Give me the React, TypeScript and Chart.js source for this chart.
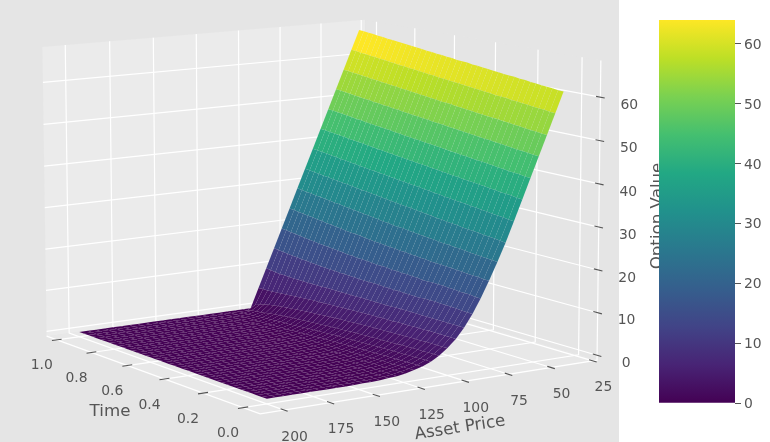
import { useEffect, useRef } from 'react';
import { Chart, registerables } from 'chart.js';
Chart.register(...registerables);

const assetPrices = [33.3,38.1,42.9,47.6,52.4,57.1,61.9,66.7,71.4,76.2,81,85.7,90.5,95.2,100,104.8,109.5,114.3,119,123.8,128.6,133.3,138.1,142.9,147.6,152.4,157.1,161.9,166.7,171.4,176.2,181,185.7,190.5,195.2,200];
const times = [0,0.025,0.05,0.075,0.1,0.125,0.15,0.175,0.2,0.225,0.25,0.275,0.3,0.325,0.35,0.375,0.4,0.425,0.45,0.475,0.5,0.525,0.55,0.575,0.6,0.625,0.65,0.675,0.7,0.725,0.75,0.775,0.8,0.825,0.85,0.875,0.9,0.925,0.95,0.975,1];
// One row per asset price, one entry per time; entries left off the end of a row are 0.
const optionValues:number[][] = [
[60.9,61,61.2,61.3,61.4,61.6,61.7,61.9,62,62.2,62.3,62.4,62.6,62.7,62.9,63,63.2,63.3,63.5,63.6,63.7,63.9,64,64.2,64.3,64.5,64.6,64.8,64.9,65.1,65.2,65.4,65.5,65.7,65.8,66,66.1,66.3,66.4,66.6,66.7],
[56.1,56.2,56.4,56.5,56.6,56.8,56.9,57.1,57.2,57.4,57.5,57.6,57.8,57.9,58.1,58.2,58.4,58.5,58.7,58.8,58.9,59.1,59.2,59.4,59.5,59.7,59.8,60,60.1,60.3,60.4,60.6,60.7,60.9,61,61.2,61.3,61.5,61.6,61.8,61.9],
[51.3,51.4,51.6,51.7,51.8,52,52.1,52.3,52.4,52.6,52.7,52.8,53,53.1,53.3,53.4,53.6,53.7,53.9,54,54.1,54.3,54.4,54.6,54.7,54.9,55,55.2,55.3,55.5,55.6,55.8,55.9,56.1,56.2,56.4,56.5,56.7,56.8,57,57.1],
[46.6,46.7,46.9,47,47.1,47.3,47.4,47.6,47.7,47.9,48,48.1,48.3,48.4,48.6,48.7,48.9,49,49.2,49.3,49.4,49.6,49.7,49.9,50,50.2,50.3,50.5,50.6,50.8,50.9,51.1,51.2,51.4,51.5,51.7,51.8,52,52.1,52.3,52.4],
[41.8,41.9,42.1,42.2,42.3,42.5,42.6,42.8,42.9,43.1,43.2,43.3,43.5,43.6,43.8,43.9,44.1,44.2,44.4,44.5,44.6,44.8,44.9,45.1,45.2,45.4,45.5,45.7,45.8,46,46.1,46.3,46.4,46.6,46.7,46.9,47,47.2,47.3,47.5,47.6],
[37.1,37.2,37.4,37.5,37.6,37.8,37.9,38.1,38.2,38.4,38.5,38.6,38.8,38.9,39.1,39.2,39.4,39.5,39.7,39.8,39.9,40.1,40.2,40.4,40.5,40.7,40.8,41,41.1,41.3,41.4,41.6,41.7,41.9,42,42.2,42.3,42.5,42.6,42.8,42.9],
[32.3,32.4,32.6,32.7,32.8,33,33.1,33.3,33.4,33.6,33.7,33.8,34,34.1,34.3,34.4,34.6,34.7,34.9,35,35.1,35.3,35.4,35.6,35.7,35.9,36,36.2,36.3,36.5,36.6,36.8,36.9,37.1,37.2,37.4,37.5,37.7,37.8,38,38.1],
[27.6,27.7,27.9,28,28.1,28.3,28.4,28.5,28.6,28.8,28.9,29,29.2,29.3,29.5,29.6,29.8,29.9,30.1,30.2,30.3,30.5,30.6,30.8,30.9,31.1,31.2,31.4,31.5,31.7,31.8,32,32.1,32.3,32.4,32.6,32.7,32.9,33,33.2,33.3],
[23.4,23.5,23.6,23.7,23.8,23.9,24,24.2,24.2,24.4,24.4,24.5,24.7,24.8,24.9,25,25.2,25.3,25.5,25.5,25.6,25.8,25.9,26.1,26.2,26.4,26.5,26.7,26.8,27,27.1,27.3,27.4,27.6,27.7,27.9,28,28.2,28.3,28.5,28.6],
[19.3,19.3,19.5,19.5,19.6,19.7,19.8,19.9,19.9,20,20.1,20.1,20.3,20.3,20.5,20.5,20.7,20.7,20.9,20.9,21,21.2,21.2,21.4,21.5,21.7,21.8,21.9,22,22.2,22.3,22.5,22.6,22.8,22.9,23.1,23.2,23.4,23.5,23.7,23.8],
[15.5,15.5,15.7,15.7,15.7,15.9,15.9,16,16,16.1,16,16,16.2,16.2,16.3,16.3,16.4,16.4,16.6,16.6,16.6,16.7,16.8,16.9,16.9,17.1,17.1,17.3,17.4,17.5,17.6,17.7,17.8,18,18.1,18.3,18.4,18.6,18.7,18.9,19],
[12.2,12.2,12.3,12.4,12.4,12.5,12.5,12.6,12.5,12.6,12.4,12.4,12.5,12.5,12.6,12.5,12.6,12.6,12.7,12.7,12.7,12.7,12.7,12.8,12.8,12.9,12.9,13,13,13.1,13.1,13.3,13.3,13.5,13.5,13.7,13.7,13.9,14,14.2,14.3],
[9.3,9.3,9.3,9.3,9.3,9.3,9.3,9.3,9.3,9.3,9.3,9.3,9.3,9.3,9.2,9.2,9.2,9.2,9.2,9.2,9.2,9.1,9.1,9.1,9.1,9.1,9.1,9.1,9,9,9,9,9,9,9,9,9.1,9.1,9.2,9.4,9.5],
[7,7,7,7,7,7,6.9,6.9,6.9,6.8,6.8,6.8,6.7,6.7,6.7,6.6,6.6,6.5,6.5,6.4,6.4,6.3,6.3,6.2,6.1,6.1,6,5.9,5.9,5.8,5.7,5.6,5.5,5.4,5.3,5.2,5.1,5,4.9,4.9,4.8],
[5.2,5.1,5.1,5.1,5.1,5,5,5,4.9,4.9,4.8,4.8,4.7,4.7,4.6,4.6,4.5,4.5,4.4,4.3,4.2,4.2,4.1,4,3.9,3.8,3.7,3.6,3.5,3.4,3.3,3.1,3,2.9,2.7,2.5,2.3,2,1.6,1.2,0],
[3.7,3.7,3.7,3.6,3.6,3.6,3.5,3.5,3.4,3.3,3.3,3.2,3.2,3.1,3.1,3,3,2.9,2.8,2.7,2.7,2.6,2.5,2.4,2.3,2.2,2.1,2,1.9,1.8,1.7,1.6,1.4,1.3,1.1,0.9,0.7,0.6,0.4,0.1,0],
[2.6,2.6,2.6,2.5,2.5,2.4,2.4,2.4,2.3,2.3,2.2,2.2,2.1,2.1,2,2,1.9,1.8,1.8,1.7,1.6,1.5,1.5,1.4,1.3,1.2,1.1,1,0.9,0.9,0.8,0.7,0.6,0.5,0.4,0.3,0.2,0.1,0.1],
[1.8,1.8,1.8,1.7,1.7,1.6,1.6,1.6,1.5,1.5,1.4,1.4,1.3,1.3,1.2,1.2,1.1,1.1,1,1,0.9,0.8,0.8,0.7,0.6,0.6,0.5,0.4,0.4,0.3,0.3,0.2,0.2,0.1,0.1,0.1],
[1.3,1.2,1.2,1.2,1.1,1.1,1.1,1,1,0.9,0.9,0.8,0.8,0.8,0.7,0.7,0.6,0.6,0.6,0.5,0.5,0.4,0.4,0.3,0.3,0.3,0.2,0.2,0.2,0.1,0.1,0.1,0.1],
[0.8,0.8,0.8,0.8,0.7,0.7,0.7,0.7,0.6,0.6,0.6,0.5,0.5,0.5,0.4,0.4,0.4,0.3,0.3,0.3,0.3,0.2,0.2,0.2,0.1,0.1,0.1,0.1,0.1],
[0.5,0.5,0.5,0.5,0.5,0.5,0.4,0.4,0.4,0.4,0.3,0.3,0.3,0.3,0.2,0.2,0.2,0.2,0.2,0.1,0.1,0.1,0.1,0.1],
[0.4,0.3,0.3,0.3,0.3,0.3,0.3,0.2,0.2,0.2,0.2,0.2,0.2,0.1,0.1,0.1,0.1,0.1,0.1,0.1,0.1],
[0.2,0.2,0.2,0.2,0.2,0.2,0.2,0.1,0.1,0.1,0.1,0.1,0.1,0.1,0.1],
[0.1,0.1,0.1,0.1,0.1,0.1,0.1,0.1,0.1,0.1],
[0.1,0.1,0.1,0.1,0.1],
[],[],[],[],[],[],[],[],[],[],[],
];
const val=(i:number,j:number)=>optionValues[i]?.[j]??0;

const timeTicks = [0,0.2,0.4,0.6,0.8,1];
const assetTicks = [25,50,75,100,125,150,175,200];
const valueTicks = [0,10,20,30,40,50,60];
const colorMax = 63.96;

const T_LO=-0.083,T_HI=1.06,S_LO=22.5,S_HI=212.7,Z_LO=-1.15,Z_HI=68.4;
const GRID='#ffffff', INK='#555555';
const FONT='"DejaVu Sans"';

const camera:[number,number,number,number,number][]=[
 [T_LO,S_HI,Z_LO,260,413],[T_HI,S_HI,Z_LO,46.7,337.3],[T_LO,S_LO,Z_LO,597,361],[T_HI,S_LO,Z_LO,365,291],
 [T_HI,S_HI,Z_HI,42.5,46.7],[T_LO,S_LO,Z_HI,601,60.5],[T_HI,S_LO,Z_HI,365,20],
];
const nrm=(t:number,s:number,z:number)=>[(t-T_LO)/(T_HI-T_LO),(s-S_LO)/(S_HI-S_LO),(z-Z_LO)/(Z_HI-Z_LO)];
function solveCamera(){
  const rows:number[][]=[];const rhs:number[]=[];
  for(const [t,s,z,u0,v0] of camera){const [X,Y,Z]=nrm(t,s,z);const u=u0/500,v=v0/500;
    rows.push([X,Y,Z,1,0,0,0,0,-u*X,-u*Y,-u*Z]);rhs.push(u);
    rows.push([0,0,0,0,X,Y,Z,1,-v*X,-v*Y,-v*Z]);rhs.push(v);}
  const n=11;const A=Array.from({length:n},()=>new Array(n+1).fill(0));
  rows.forEach((r,k)=>{for(let i=0;i<n;i++){for(let j=0;j<n;j++)A[i][j]+=r[i]*r[j];A[i][n]+=r[i]*rhs[k];}});
  for(let i=0;i<n;i++){let p=i;for(let k=i+1;k<n;k++)if(Math.abs(A[k][i])>Math.abs(A[p][i]))p=k;[A[i],A[p]]=[A[p],A[i]];
    for(let k=0;k<n;k++){if(k===i)continue;const f=A[k][i]/A[i][i];for(let j=i;j<=n;j++)A[k][j]-=f*A[i][j];}}
  return A.map((r,i)=>r[n]/r[i]);
}
const P=solveCamera();
function proj(t:number,s:number,z:number){const [X,Y,Z]=nrm(t,s,z);const w=P[8]*X+P[9]*Y+P[10]*Z+1;
  return {x:500*(P[0]*X+P[1]*Y+P[2]*Z+P[3])/w,y:500*(P[4]*X+P[5]*Y+P[6]*Z+P[7])/w};}

const VIR=['#440154','#482475','#414487','#355f8d','#2a788e','#21918c','#22a884','#44bf70','#7ad151','#bddf26','#fde725'];
const hex=(h:string)=>[1,3,5].map(i=>parseInt(h.slice(i,i+2),16));
function viridis(f:number){const c=Math.min(Math.max(f,0),1)*10;const i=Math.min(Math.floor(c),9);const a=hex(VIR[i]),b=hex(VIR[i+1]);const m=c-i;
  return `rgb(${a.map((v,k)=>Math.round(v+(b[k]-v)*m)).join(',')})`;}

function poly(pts:{x:number,y:number}[],color:string){return {data:[...pts,pts[0]],backgroundColor:color,borderWidth:0,borderColor:'transparent',fill:'shape',pointRadius:0,tension:0,clip:false};}
function line(pts:{x:number,y:number}[],color:string,w:number){return {data:pts,borderColor:color,borderWidth:w,fill:false,pointRadius:0,tension:0,clip:false};}

function buildDatasets(){
  const d:any[]=[];
  d.push(poly([proj(T_HI,S_HI,Z_LO),proj(T_HI,S_LO,Z_LO),proj(T_HI,S_LO,Z_HI),proj(T_HI,S_HI,Z_HI)],'#ebebeb'));
  d.push(poly([proj(T_HI,S_LO,Z_LO),proj(T_LO,S_LO,Z_LO),proj(T_LO,S_LO,Z_HI),proj(T_HI,S_LO,Z_HI)],'#e5e5e5'));
  d.push(poly([proj(T_LO,S_HI,Z_LO),proj(T_HI,S_HI,Z_LO),proj(T_HI,S_LO,Z_LO),proj(T_LO,S_LO,Z_LO)],'#e8e8e8'));
  for(const s of assetTicks)d.push(line([proj(T_LO,s,Z_LO),proj(T_HI,s,Z_LO),proj(T_HI,s,Z_HI)],GRID,1.2));
  for(const t of timeTicks)d.push(line([proj(t,S_HI,Z_LO),proj(t,S_LO,Z_LO),proj(t,S_LO,Z_HI)],GRID,1.2));
  for(const z of valueTicks)d.push(line([proj(T_HI,S_HI,z),proj(T_HI,S_LO,z),proj(T_LO,S_LO,z)],GRID,1.2));
  d.push(line([proj(T_HI,S_HI,Z_LO),proj(T_LO,S_HI,Z_LO),proj(T_LO,S_LO,Z_LO),proj(T_LO,S_LO,Z_HI)],GRID,1.2));
  for(const t of timeTicks)d.push(line([proj(t,S_HI-2.7,Z_LO),proj(t,S_HI+2.7,Z_LO)],INK,1.1));
  for(const s of assetTicks)d.push(line([proj(T_LO-0.017,s,Z_LO),proj(T_LO+0.017,s,Z_LO)],INK,1.1));
  for(const z of valueTicks)d.push(line([proj(T_LO-0.019,S_LO,z),proj(T_LO+0.019,S_LO,z)],INK,1.1));
  for(let i=0;i<assetPrices.length-1;i++)for(let j=times.length-2;j>=0;j--){
    const a=val(i,j),b=val(i,j+1),c=val(i+1,j+1),e=val(i+1,j);
    d.push(poly([proj(times[j],assetPrices[i],a),proj(times[j+1],assetPrices[i],b),proj(times[j+1],assetPrices[i+1],c),proj(times[j],assetPrices[i+1],e)],viridis((a+b+c+e)/4/colorMax)));
  }
  return d.reverse();
}

const put=(c:any,txt:string,x:number,y:number,size:number,rot=0)=>{c.save();c.fillStyle=INK;c.textAlign='center';c.textBaseline='middle';c.translate(x,y);c.rotate(rot);c.font=`${size}px ${FONT}`;c.fillText(txt,0,0);c.restore();};
const labelsPlugin={id:'labels3d',afterDatasetsDraw(chart:any){const c=chart.ctx;
  for(const t of timeTicks){const p=proj(t,S_HI,Z_LO);put(c,t.toFixed(1),p.x-15,p.y+26,13.9);}
  for(const s of assetTicks){const p=proj(T_LO,s,Z_LO);put(c,String(s),p.x+10.5,p.y+27,13.9);}
  put(c,'Time',110,412,16.67);
  put(c,'Asset Price',460,428,16.67,-8.8*Math.PI/180);
  for(const z of valueTicks){const p=proj(T_LO,S_LO,z);put(c,String(z),p.x+29,p.y+8,13.9);}
  }};

const cbLabelPlugin={id:'cbLabel',beforeDatasetsDraw(chart:any){const c=chart.ctx;
  for(const z of valueTicks){const p=proj(T_LO,S_LO,z);put(c,String(z),p.x+29-619,p.y+8,13.9);}
  put(c,'Option Value',39,216,16.67,-Math.PI/2);}};

export default function App(){
  const a=useRef<HTMLCanvasElement>(null),b=useRef<HTMLCanvasElement>(null);
  useEffect(()=>{
    const main=new Chart(a.current!,{type:'line',data:{datasets:buildDatasets()},plugins:[labelsPlugin],options:{animation:false,responsive:false,events:[],layout:{padding:0},
      plugins:{legend:{display:false},tooltip:{enabled:false}},
      scales:{x:{type:'linear',display:false,min:0,max:619},y:{type:'linear',display:false,min:0,max:442,reverse:true}}}} as any);
    const cb=new Chart(b.current!,{type:'bar',data:{labels:[''],datasets:[{data:[colorMax],barPercentage:1,categoryPercentage:1,borderWidth:0,
      backgroundColor:(ctx:any)=>{const ar=ctx.chart.chartArea;if(!ar)return VIR[0];const g=ctx.chart.ctx.createLinearGradient(0,ar.bottom,0,ar.top);VIR.forEach((v,i)=>g.addColorStop(i/10,v));return g;}}]},
      plugins:[cbLabelPlugin],options:{animation:false,responsive:false,events:[],layout:{padding:{left:40,top:20,bottom:39,right:0}},
      plugins:{legend:{display:false},tooltip:{enabled:false}},
      scales:{x:{display:false},y:{position:'right',min:0,max:colorMax,afterFit:(s:any)=>{s.width=35;},afterBuildTicks:(s:any)=>{s.ticks=valueTicks.map(v=>({value:v}));},
        grid:{drawOnChartArea:false,drawTicks:true,tickLength:6,color:INK,tickWidth:1},border:{display:false},ticks:{color:INK,padding:3,labelOffset:1.5,font:{family:FONT,size:13.9}}}}}} as any);
    return ()=>{main.destroy();cb.destroy();};
  },[]);
  return <div style={{position:'fixed',left:0,top:0,width:770,height:442,background:'#fff'}}>
    <canvas ref={a} width={619} height={442} style={{position:'absolute',left:0,top:0,background:'#e5e5e5',display:'block'}}/>
    <canvas ref={b} width={151} height={442} style={{position:'absolute',left:619,top:0,display:'block'}}/>
  </div>;
}
